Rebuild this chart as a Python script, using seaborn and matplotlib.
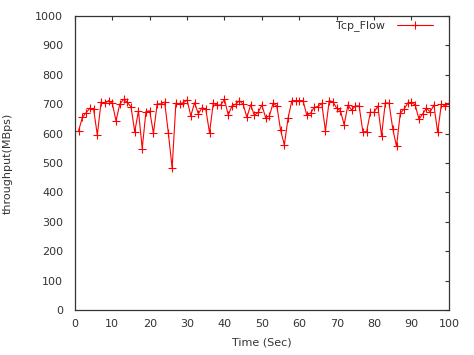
import pandas as pd
import matplotlib
matplotlib.use('Agg')
import matplotlib.pyplot as plt
import seaborn as sns

# tempo (s) e throughput
time_sec = list(range(1, 101))
throughput = [610, 655, 671, 686, 683, 595, 707, 703, 712, 703,
              643, 700, 716, 706, 691, 606, 677, 549, 675, 677,
              601, 701, 701, 707, 601, 482, 703, 701, 705, 714,
              660, 705, 667, 688, 683, 603, 703, 697, 697, 716,
              663, 694, 700, 712, 699, 655, 698, 662, 672, 697,
              654, 660, 703, 694, 612, 561, 652, 712, 712, 712,
              712, 663, 669, 689, 692, 703, 609, 712, 708, 686,
              678, 630, 697, 680, 694, 694, 606, 606, 672, 672,
              694, 593, 705, 703, 616, 556, 669, 683, 703, 706,
              697, 649, 667, 686, 674, 697, 604, 701, 694, 703]

df = pd.DataFrame({'time': time_sec, 'throughput': throughput})

sns.set_style('white')
plt.rcParams['font.family'] = ['DejaVu Sans']

fig = plt.figure(figsize=(4.74, 3.55), dpi=100)
ax = fig.add_axes([0.158, 0.127, 0.789, 0.828])

sns.lineplot(data=df, x='time', y='throughput', ax=ax, color='#ff0000',
             linewidth=0.8, marker='+', markersize=6, markeredgewidth=0.8,
             markeredgecolor='#ff0000', label='Tcp_Flow')

ax.set_xlim(0, 100)
ax.set_ylim(0, 1000)
ax.set_xticks(range(0, 101, 10))
ax.set_yticks(range(0, 1001, 100))
ax.tick_params(direction='in', top=True, right=True, length=3, width=0.8,
               labelsize=8, labelcolor='#333333', color='#333333')
ax.tick_params(axis='x', pad=6.5)
ax.tick_params(axis='y', pad=8.5)
for s in ax.spines.values():
    s.set_color('#333333')
    s.set_linewidth(0.9)

ax.set_xlabel('Time (Sec)', fontsize=8, color='#333333', labelpad=6)
ax.set_ylabel('throughput(MBps)', fontsize=8, color='#333333', labelpad=16)

ax.legend(loc='upper right', bbox_to_anchor=(0.97, 1.0), frameon=False,
          markerfirst=False, fontsize=8, handlelength=3.25,
          handletextpad=1.1, borderaxespad=0, labelcolor='#333333')

plt.savefig('out.png', dpi=100)
plt.close()
